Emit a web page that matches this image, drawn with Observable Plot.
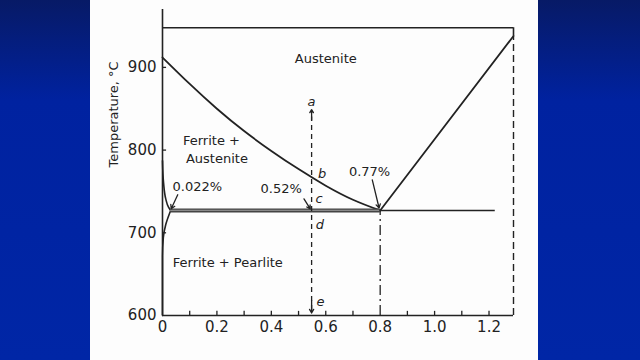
<!DOCTYPE html>
<html>
<head>
<meta charset="utf-8">
<script src="https://cdn.jsdelivr.net/npm/d3@7"></script>
<script src="https://cdn.jsdelivr.net/npm/@observablehq/plot@0.6"></script>
<style>
  html, body { margin: 0; padding: 0; }
  body { width: 640px; height: 360px; overflow: hidden;
         background: linear-gradient(180deg, #071a66 0%, #0022a0 28%, #0026a6 100%); position: relative; }
  #panel { position: absolute; left: 90px; top: 0; width: 448px; height: 360px; background: #fdfdfd; }
</style>
</head>
<body>
<div id="panel"></div>
<script>
// ---- data (carbon wt% vs temperature °C) ----
const a3Carbon = [0, 0.1, 0.2, 0.3, 0.4, 0.5, 0.6, 0.7, 0.8];
const a3Temp   = [912, 880, 850, 823, 799, 777, 757, 740, 727];
const acmCarbon = [0.8, 1.29];
const acmTemp   = [727, 938];
const upperSolvusCarbon = [0, 0.004, 0.012, 0.022, 0.03];
const upperSolvusTemp   = [787, 760, 741, 731, 727];
const lowerSolvusCarbon = [0.03, 0.012, 0.003, 0, 0];
const lowerSolvusTemp   = [727, 710, 694, 670, 600];
const eutectoidTemp = 727;
const eutectoidCarbon = 0.8;
const eutectoidLeft = 0.03;
const eutectoidRight = 1.223;
const topTemp = 948;
const rightCarbon = 1.29;
const alloyCarbon = 0.548;
const yTicks = [600, 700, 800, 900];
const xTicks = [0, 0.2, 0.4, 0.6, 0.8, 1.0, 1.2];
const xMinor = [0.1, 0.2, 0.3, 0.4, 0.5, 0.6, 0.7, 0.9, 1.0, 1.1, 1.2];
const regionLabels = [
  {text: "Austenite", x: 0.6, y: 910},
  {text: "Ferrite +", x: 0.18, y: 811},
  {text: "Austenite", x: 0.2, y: 789},
  {text: "Ferrite + Pearlite", x: 0.24, y: 664},
  {text: "0.022%", x: 0.128, y: 755},
  {text: "0.52%", x: 0.436, y: 753},
  {text: "0.77%", x: 0.761, y: 774}
];
const pointLabels = [
  {text: "a", x: 0.548, y: 858},
  {text: "b", x: 0.587, y: 771},
  {text: "c", x: 0.575, y: 741},
  {text: "d", x: 0.578, y: 710},
  {text: "e", x: 0.581, y: 616}
];
const arrows = [
  {x1: 0.056, y1: 746, x2: 0.032, y2: 729},
  {x1: 0.52, y1: 741, x2: 0.543, y2: 729},
  {x1: 0.771, y1: 764, x2: 0.796, y2: 730},
  {x1: 0.548, y1: 836, x2: 0.548, y2: 849},
  {x1: 0.548, y1: 618, x2: 0.548, y2: 603}
];

const ink = "#222";
const toPts = (xs, ys) => xs.map((x, i) => ({x, y: ys[i]}));

const chart = Plot.plot({
  width: 448, height: 360,
  marginLeft: 72, marginRight: 25, marginTop: 9, marginBottom: 45,
  x: {domain: [0, 1.29]},
  y: {domain: [600, 970]},
  style: {fontFamily: "DejaVu Sans", fontSize: "14px", color: ink, background: "transparent"},
  marks: [
    // axes lines
    Plot.ruleX([0], {y1: 600, y2: 970, stroke: ink, strokeWidth: 1.6}),
    Plot.ruleY([600], {x1: 0, x2: rightCarbon, stroke: ink, strokeWidth: 1.6}),
    Plot.ruleX(xMinor, {y1: 600, y2: 605, stroke: ink, strokeWidth: 1.3}),
    Plot.ruleY(yTicks.slice(1), {x1: 0, x2: 0.015, stroke: ink, strokeWidth: 1.3}),
    Plot.axisY({ticks: yTicks, tickSize: 0, tickPadding: 6, fontSize: 15, fill: ink}),
    Plot.axisX({ticks: xTicks, tickSize: 0, tickPadding: 6, fontSize: 15, fill: ink,
                tickFormat: d => d === 0 ? "0" : d.toFixed(1)}),
    Plot.text(["Temperature, °C"], {frameAnchor: "left", rotate: -90, dx: -49, dy: 5,
                fontSize: 13, fill: ink}),
    // top line and right boundary
    Plot.ruleY([topTemp], {x1: 0, x2: rightCarbon, stroke: ink, strokeWidth: 1.6}),
    Plot.ruleX([rightCarbon], {y1: acmTemp[1], y2: topTemp, stroke: ink, strokeWidth: 1.6}),
    Plot.ruleX([rightCarbon], {y1: 600, y2: acmTemp[1], stroke: ink, strokeWidth: 1.4, strokeDasharray: "7,4"}),
    // phase boundaries
    Plot.line(toPts(a3Carbon, a3Temp), {x: "x", y: "y", curve: "natural", stroke: ink, strokeWidth: 1.8}),
    Plot.line(toPts(acmCarbon, acmTemp), {x: "x", y: "y", stroke: ink, strokeWidth: 1.8}),
    Plot.line(toPts(upperSolvusCarbon, upperSolvusTemp), {x: "x", y: "y", curve: "monotone-y", stroke: ink, strokeWidth: 1.6}),
    Plot.line(toPts(lowerSolvusCarbon, lowerSolvusTemp), {x: "x", y: "y", curve: "monotone-y", stroke: ink, strokeWidth: 1.6}),
    Plot.ruleY([eutectoidTemp], {x1: eutectoidLeft, x2: eutectoidCarbon, stroke: "#444", strokeWidth: 4}),
    Plot.ruleY([eutectoidTemp], {x1: eutectoidLeft, x2: eutectoidCarbon, stroke: "#8a8a8a", strokeWidth: 1.2}),
    Plot.ruleY([eutectoidTemp], {x1: eutectoidCarbon, x2: eutectoidRight, stroke: ink, strokeWidth: 1.6}),
    // vertical guides
    Plot.ruleX([eutectoidCarbon], {y1: 600, y2: eutectoidTemp, stroke: ink, strokeWidth: 1.3, strokeDasharray: "10,4,2,4"}),
    Plot.ruleX([alloyCarbon], {y1: 606, y2: 840, stroke: ink, strokeWidth: 1.3, strokeDasharray: "5,4"}),
    // arrows
    Plot.arrow(arrows, {x1: "x1", y1: "y1", x2: "x2", y2: "y2", stroke: ink, strokeWidth: 1.3, headLength: 5}),
    // labels
    Plot.text(regionLabels, {x: "x", y: "y", text: "text", fontSize: 13, fill: ink}),
    Plot.text(pointLabels, {x: "x", y: "y", text: "text", fontSize: 13, fontStyle: "italic", fill: ink})
  ]
});
document.getElementById("panel").appendChild(chart);
</script>
</body>
</html>
